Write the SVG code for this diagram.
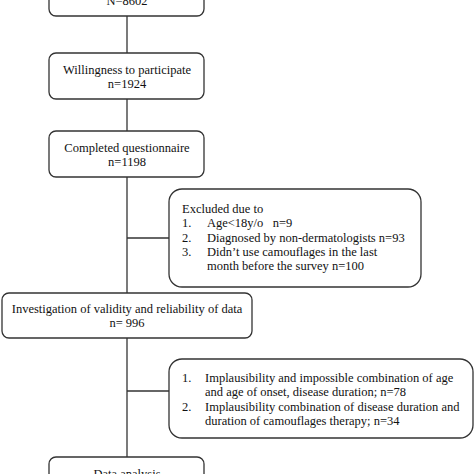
<svg xmlns="http://www.w3.org/2000/svg" width="474" height="474" viewBox="0 0 474 474">
<style>
.box{fill:#fff;stroke:#333;stroke-width:1.3}
.ln{stroke:#333;stroke-width:1.3;fill:none}
text{font-family:"Liberation Serif","Times New Roman",serif;font-size:12.5px;fill:#111}
.c{text-anchor:middle}
</style>
<rect width="474" height="474" fill="#fff"/>
<g id="connectors">
<line class="ln" x1="127" y1="16" x2="127" y2="53"/>
<line class="ln" x1="127" y1="99" x2="127" y2="131"/>
<line class="ln" x1="127" y1="177" x2="127" y2="293"/>
<line class="ln" x1="127" y1="238" x2="169" y2="238"/>
<line class="ln" x1="127" y1="338" x2="127" y2="457"/>
<line class="ln" x1="127" y1="391" x2="169" y2="391"/>
</g>
<g id="n1">
<rect class="box" x="49" y="-30" width="155" height="46" rx="7"/>
<text class="c" x="127" y="5">N=8602</text>
</g>
<g id="n2">
<rect class="box" x="49" y="53" width="155" height="46" rx="7"/>
<text class="c" x="127" y="74">Willingness to participate</text>
<text class="c" x="127" y="88">n=1924</text>
</g>
<g id="n3">
<rect class="box" x="49" y="131" width="155" height="46" rx="7"/>
<text class="c" x="127" y="152">Completed questionnaire</text>
<text class="c" x="127" y="166">n=1198</text>
</g>
<g id="ex1">
<rect class="box" x="169" y="189" width="252" height="98" rx="13"/>
<text x="182" y="213">Excluded due to</text>
<text x="182" y="227">1.</text><text x="207" y="227" xml:space="preserve">Age&lt;18y/o   n=9</text>
<text x="182" y="242">2.</text><text x="207" y="242">Diagnosed by non-dermatologists n=93</text>
<text x="182" y="256">3.</text><text x="207" y="256">Didn’t use camouflages in the last</text>
<text x="207" y="270">month before the survey n=100</text>
</g>
<g id="n4">
<rect class="box" x="2" y="293" width="250" height="45" rx="7"/>
<text class="c" x="127" y="313">Investigation of validity and reliability of data</text>
<text class="c" x="127" y="327">n= 996</text>
</g>
<g id="ex2">
<rect class="box" x="169" y="359" width="304" height="79" rx="13"/>
<text x="182" y="382">1.</text><text x="205" y="382">Implausibility and impossible combination of age</text>
<text x="205" y="396">and age of onset, disease duration; n=78</text>
<text x="182" y="411">2.</text><text x="205" y="411">Implausibility combination of disease duration and</text>
<text x="205" y="425">duration of camouflages therapy; n=34</text>
</g>
<g id="n5">
<rect class="box" x="49" y="457" width="155" height="46" rx="7"/>
<text class="c" x="127" y="478">Data analysis</text>
</g>
</svg>
